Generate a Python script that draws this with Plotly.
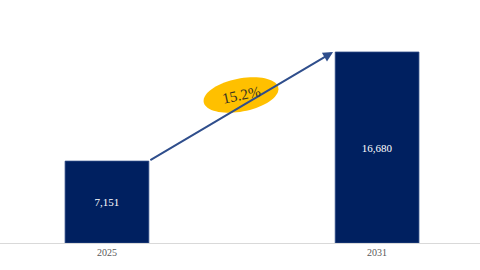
import numpy as np
import plotly.graph_objects as go

years = ["2025", "2031"]
values = [7151, 16680]
value_labels = ["7,151", "16,680"]
cagr_label = "15.2%"

W, H = 480, 270
ml, mr, mt, mb = 0, 0, 10, 27
bar_w = 0.31

fig = go.Figure()
fig.add_trace(go.Bar(
    x=[0, 1], y=values, width=bar_w,
    marker=dict(color="#002060", line=dict(color="#2c4a85", width=0.8)),
    text=value_labels, textposition="inside", insidetextanchor="middle",
    textfont=dict(family="Liberation Serif", size=11, color="white"),
    hoverinfo="skip",
))

# arrow from top-right of first bar to top-left of second bar
fig.add_annotation(
    x=1 - bar_w / 2 - 0.008, y=values[1], xref="x", yref="y",
    ax=bar_w / 2, ay=values[0], axref="x", ayref="y",
    showarrow=True, arrowhead=2, arrowsize=1, arrowwidth=2,
    arrowcolor="#2F4E8C", text="",
)

# tilted ellipse badge (in pixel space -> paper)
pw, ph = W - ml - mr, H - mt - mb
cx, cy = 241, 95
a, b = 38, 16.5
ang = np.deg2rad(-11)
t = np.linspace(0, 2 * np.pi, 72)
ex = cx + a * np.cos(t) * np.cos(ang) - b * np.sin(t) * np.sin(ang)
ey = cy + a * np.cos(t) * np.sin(ang) + b * np.sin(t) * np.cos(ang)
px = (ex - ml) / pw
py = (H - mb - ey) / ph
path = "M " + " L ".join(f"{u:.4f},{v:.4f}" for u, v in zip(px, py)) + " Z"
fig.add_shape(type="path", path=path, xref="paper", yref="paper",
              fillcolor="#FFC000", line=dict(width=0), layer="above")
fig.add_annotation(
    x=(cx - ml) / pw, y=(H - mb - cy) / ph, xref="paper", yref="paper",
    text=cagr_label, showarrow=False, textangle=-12,
    font=dict(family="Liberation Serif", size=15, color="#3a3520"),
)

fig.update_layout(
    width=W, height=H,
    margin=dict(l=ml, r=mr, t=mt, b=mb),
    paper_bgcolor="white", plot_bgcolor="white",
    showlegend=False,
    xaxis=dict(range=[-0.396, 1.381], tickvals=[0, 1], ticktext=years,
               showline=True, linecolor="#d9d9d9", linewidth=1,
               showgrid=False, zeroline=False, ticks="",
               tickfont=dict(family="Liberation Serif", size=10, color="#595959")),
    yaxis=dict(range=[0, 20350], visible=False, showgrid=False, zeroline=False),
)

fig.write_html("out.html")
